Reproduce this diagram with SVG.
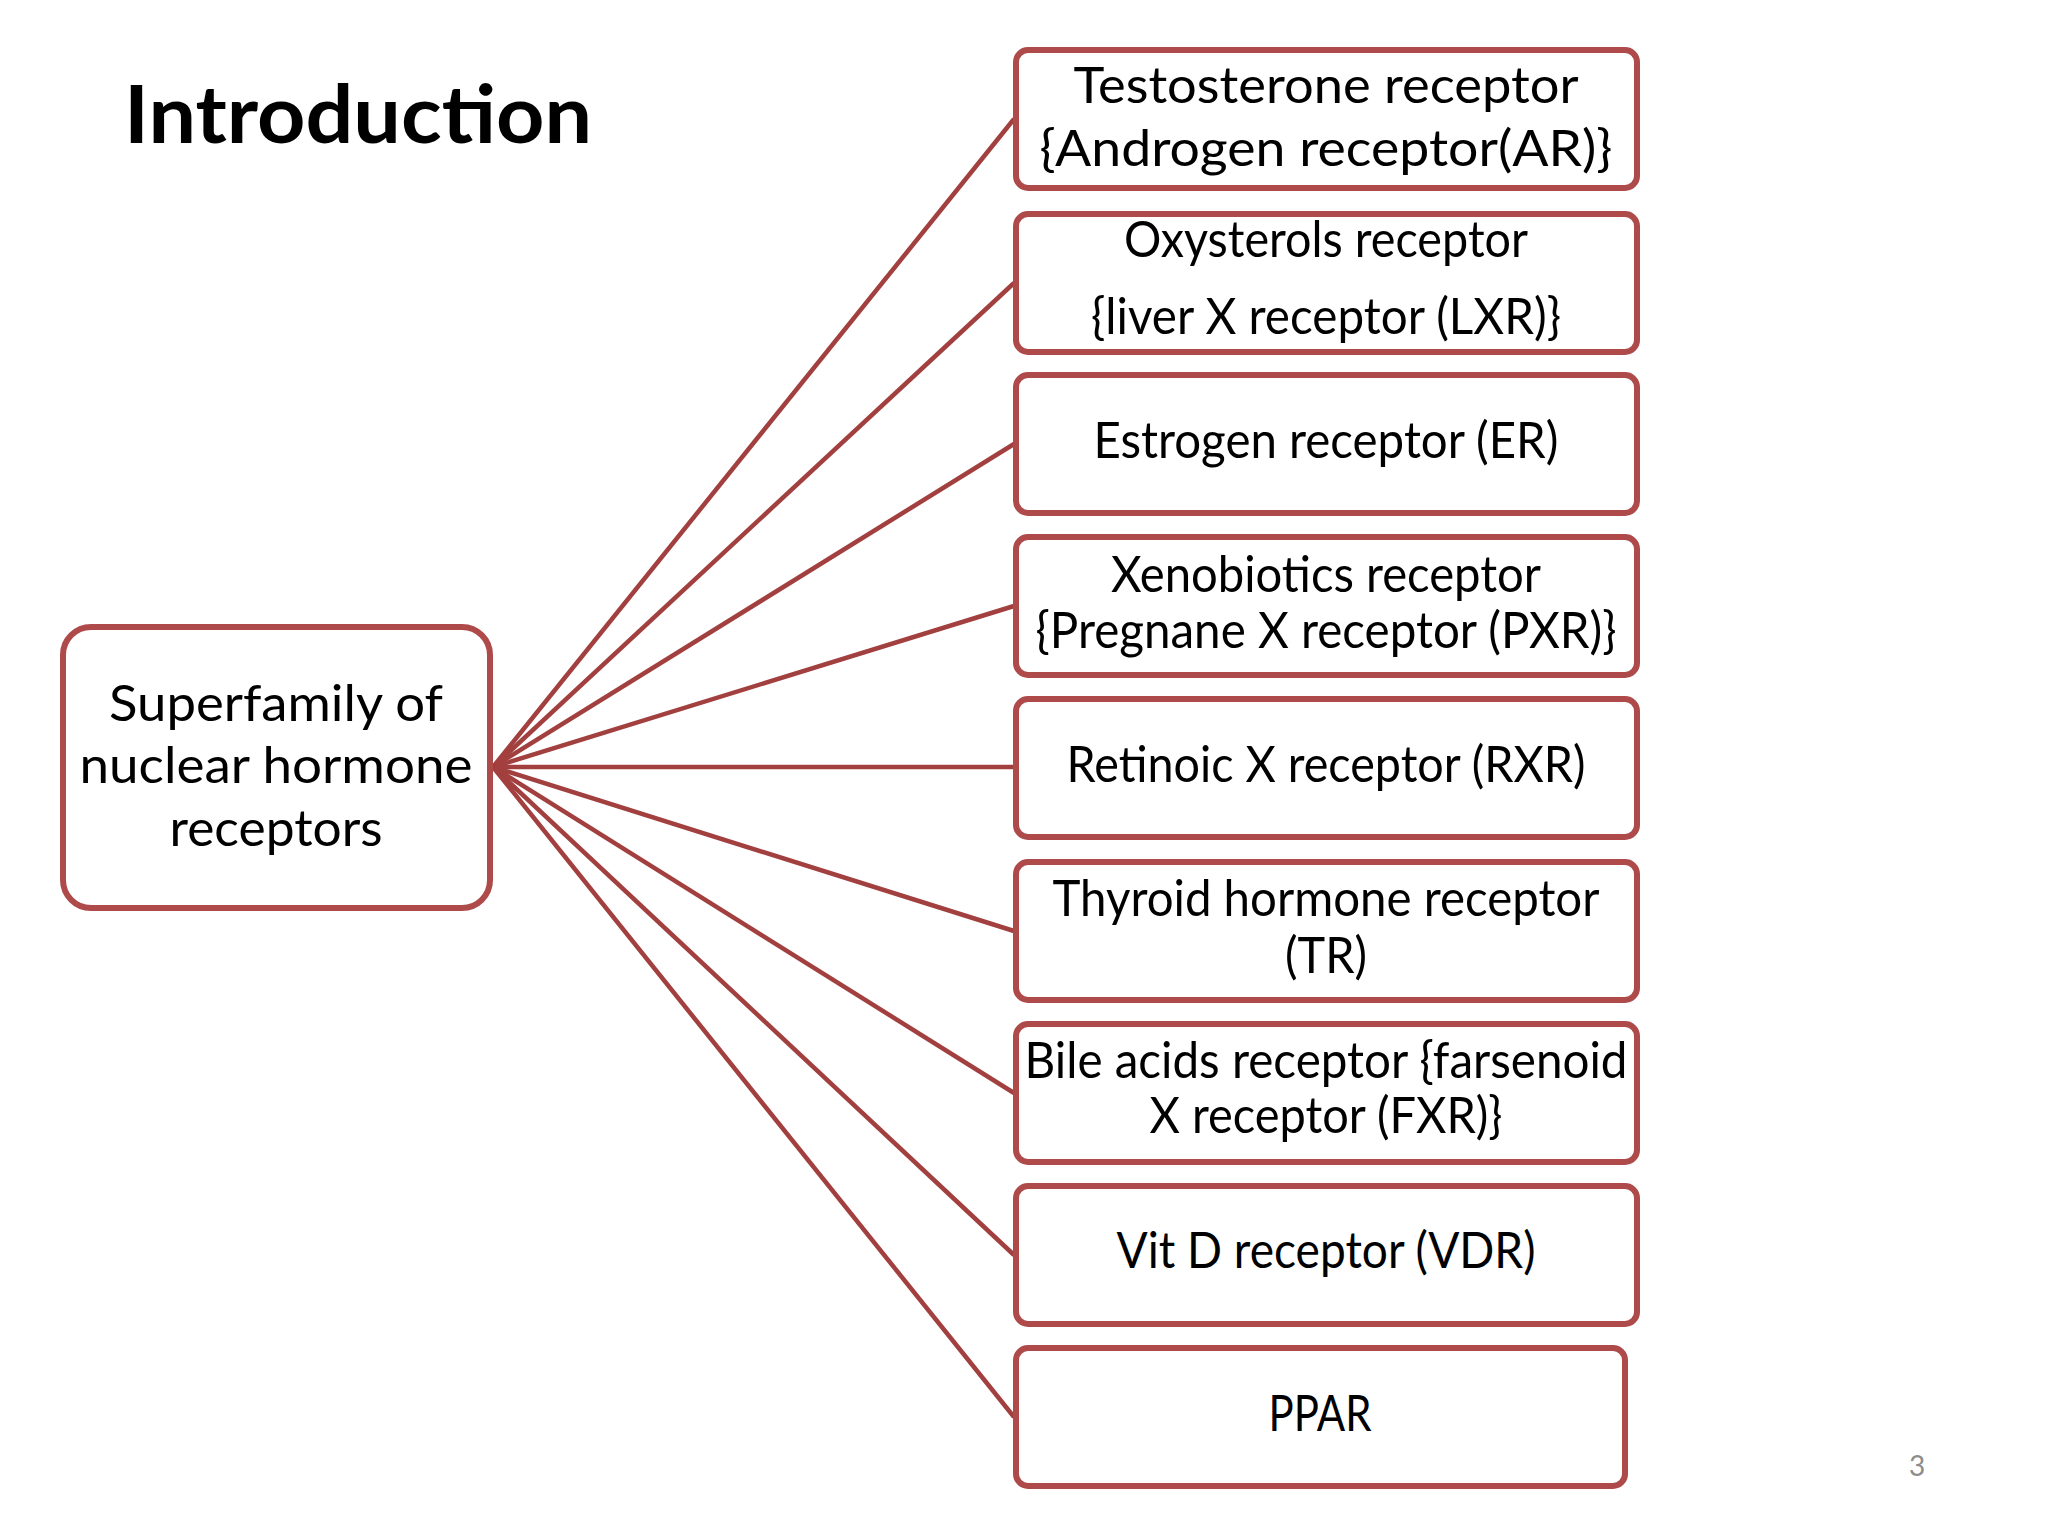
<svg xmlns="http://www.w3.org/2000/svg" width="2048" height="1536" viewBox="0 0 2048 1536">
<style>
.box{fill:#ffffff;stroke:#AE4A4A;stroke-width:6}
.t{font-family:Lato,"Open Sans","Liberation Sans",sans-serif;font-size:50px;fill:#000000;text-anchor:middle}
.ttl{font-family:Lato,"Open Sans","Liberation Sans",sans-serif;font-size:80px;font-weight:bold;fill:#000000}
.pg{font-family:Lato,"Liberation Sans",sans-serif;font-size:28px;fill:#8C8C8C}
.con line{stroke:#A23F3F;stroke-width:4.5;fill:none}
</style>
<rect width="2048" height="1536" fill="#FFFFFF"/>
<text class="ttl" x="124" y="143" textLength="468" lengthAdjust="spacingAndGlyphs">Introduction</text>
<g id="connectors" class="con">
<line x1="493" y1="767" x2="1014" y2="119"/>
<line x1="493" y1="767" x2="1014" y2="283"/>
<line x1="493" y1="767" x2="1014" y2="444"/>
<line x1="493" y1="767" x2="1014" y2="606"/>
<line x1="493" y1="767" x2="1014" y2="767"/>
<line x1="493" y1="767" x2="1014" y2="931"/>
<line x1="493" y1="767" x2="1014" y2="1093"/>
<line x1="493" y1="767" x2="1014" y2="1255"/>
<line x1="493" y1="767" x2="1014" y2="1417"/>
</g>
<g id="root">
<rect class="box" x="63" y="627" width="427" height="281" rx="28"/>
<text class="t" x="276" y="721" textLength="334" lengthAdjust="spacingAndGlyphs">Superfamily of</text>
<text class="t" x="276" y="783" textLength="393" lengthAdjust="spacingAndGlyphs">nuclear hormone</text>
<text class="t" x="276" y="846" textLength="213" lengthAdjust="spacingAndGlyphs">receptors</text>
</g>
<g id="ar">
<rect class="box" x="1016" y="50" width="621" height="138" rx="12"/>
<text class="t" x="1326" y="103" textLength="505" lengthAdjust="spacingAndGlyphs">Testosterone receptor</text>
<text class="t" x="1326" y="166" textLength="573" lengthAdjust="spacingAndGlyphs">{Androgen receptor(AR)}</text>
</g>
<g id="lxr">
<rect class="box" x="1016" y="214" width="621" height="138" rx="12"/>
<text class="t" x="1326" y="257" textLength="404" lengthAdjust="spacingAndGlyphs">Oxysterols receptor</text>
<text class="t" x="1326" y="334" textLength="470" lengthAdjust="spacingAndGlyphs">{liver X receptor (LXR)}</text>
</g>
<g id="er">
<rect class="box" x="1016" y="375" width="621" height="138" rx="12"/>
<text class="t" x="1326" y="458" textLength="465" lengthAdjust="spacingAndGlyphs">Estrogen receptor (ER)</text>
</g>
<g id="pxr">
<rect class="box" x="1016" y="537" width="621" height="138" rx="12"/>
<text class="t" x="1326" y="592" textLength="430" lengthAdjust="spacingAndGlyphs">Xenobiotics receptor</text>
<text class="t" x="1326" y="648" textLength="581" lengthAdjust="spacingAndGlyphs">{Pregnane X receptor (PXR)}</text>
</g>
<g id="rxr">
<rect class="box" x="1016" y="699" width="621" height="138" rx="12"/>
<text class="t" x="1326" y="782" textLength="519" lengthAdjust="spacingAndGlyphs">Retinoic X receptor (RXR)</text>
</g>
<g id="tr">
<rect class="box" x="1016" y="862" width="621" height="138" rx="12"/>
<text class="t" x="1326" y="916" textLength="547" lengthAdjust="spacingAndGlyphs">Thyroid hormone receptor</text>
<text class="t" x="1326" y="973" textLength="82" lengthAdjust="spacingAndGlyphs">(TR)</text>
</g>
<g id="fxr">
<rect class="box" x="1016" y="1024" width="621" height="138" rx="12"/>
<text class="t" x="1326" y="1078" textLength="603" lengthAdjust="spacingAndGlyphs">Bile acids receptor {farsenoid</text>
<text class="t" x="1326" y="1133" textLength="353" lengthAdjust="spacingAndGlyphs">X receptor (FXR)}</text>
</g>
<g id="vdr">
<rect class="box" x="1016" y="1186" width="621" height="138" rx="12"/>
<text class="t" x="1326" y="1268" textLength="419" lengthAdjust="spacingAndGlyphs">Vit D receptor (VDR)</text>
</g>
<g id="ppar">
<rect class="box" x="1016" y="1348" width="609" height="138" rx="12"/>
<text class="t" x="1320" y="1431" textLength="103" lengthAdjust="spacingAndGlyphs">PPAR</text>
</g>
<text class="pg" x="1909" y="1476">3</text>
</svg>
